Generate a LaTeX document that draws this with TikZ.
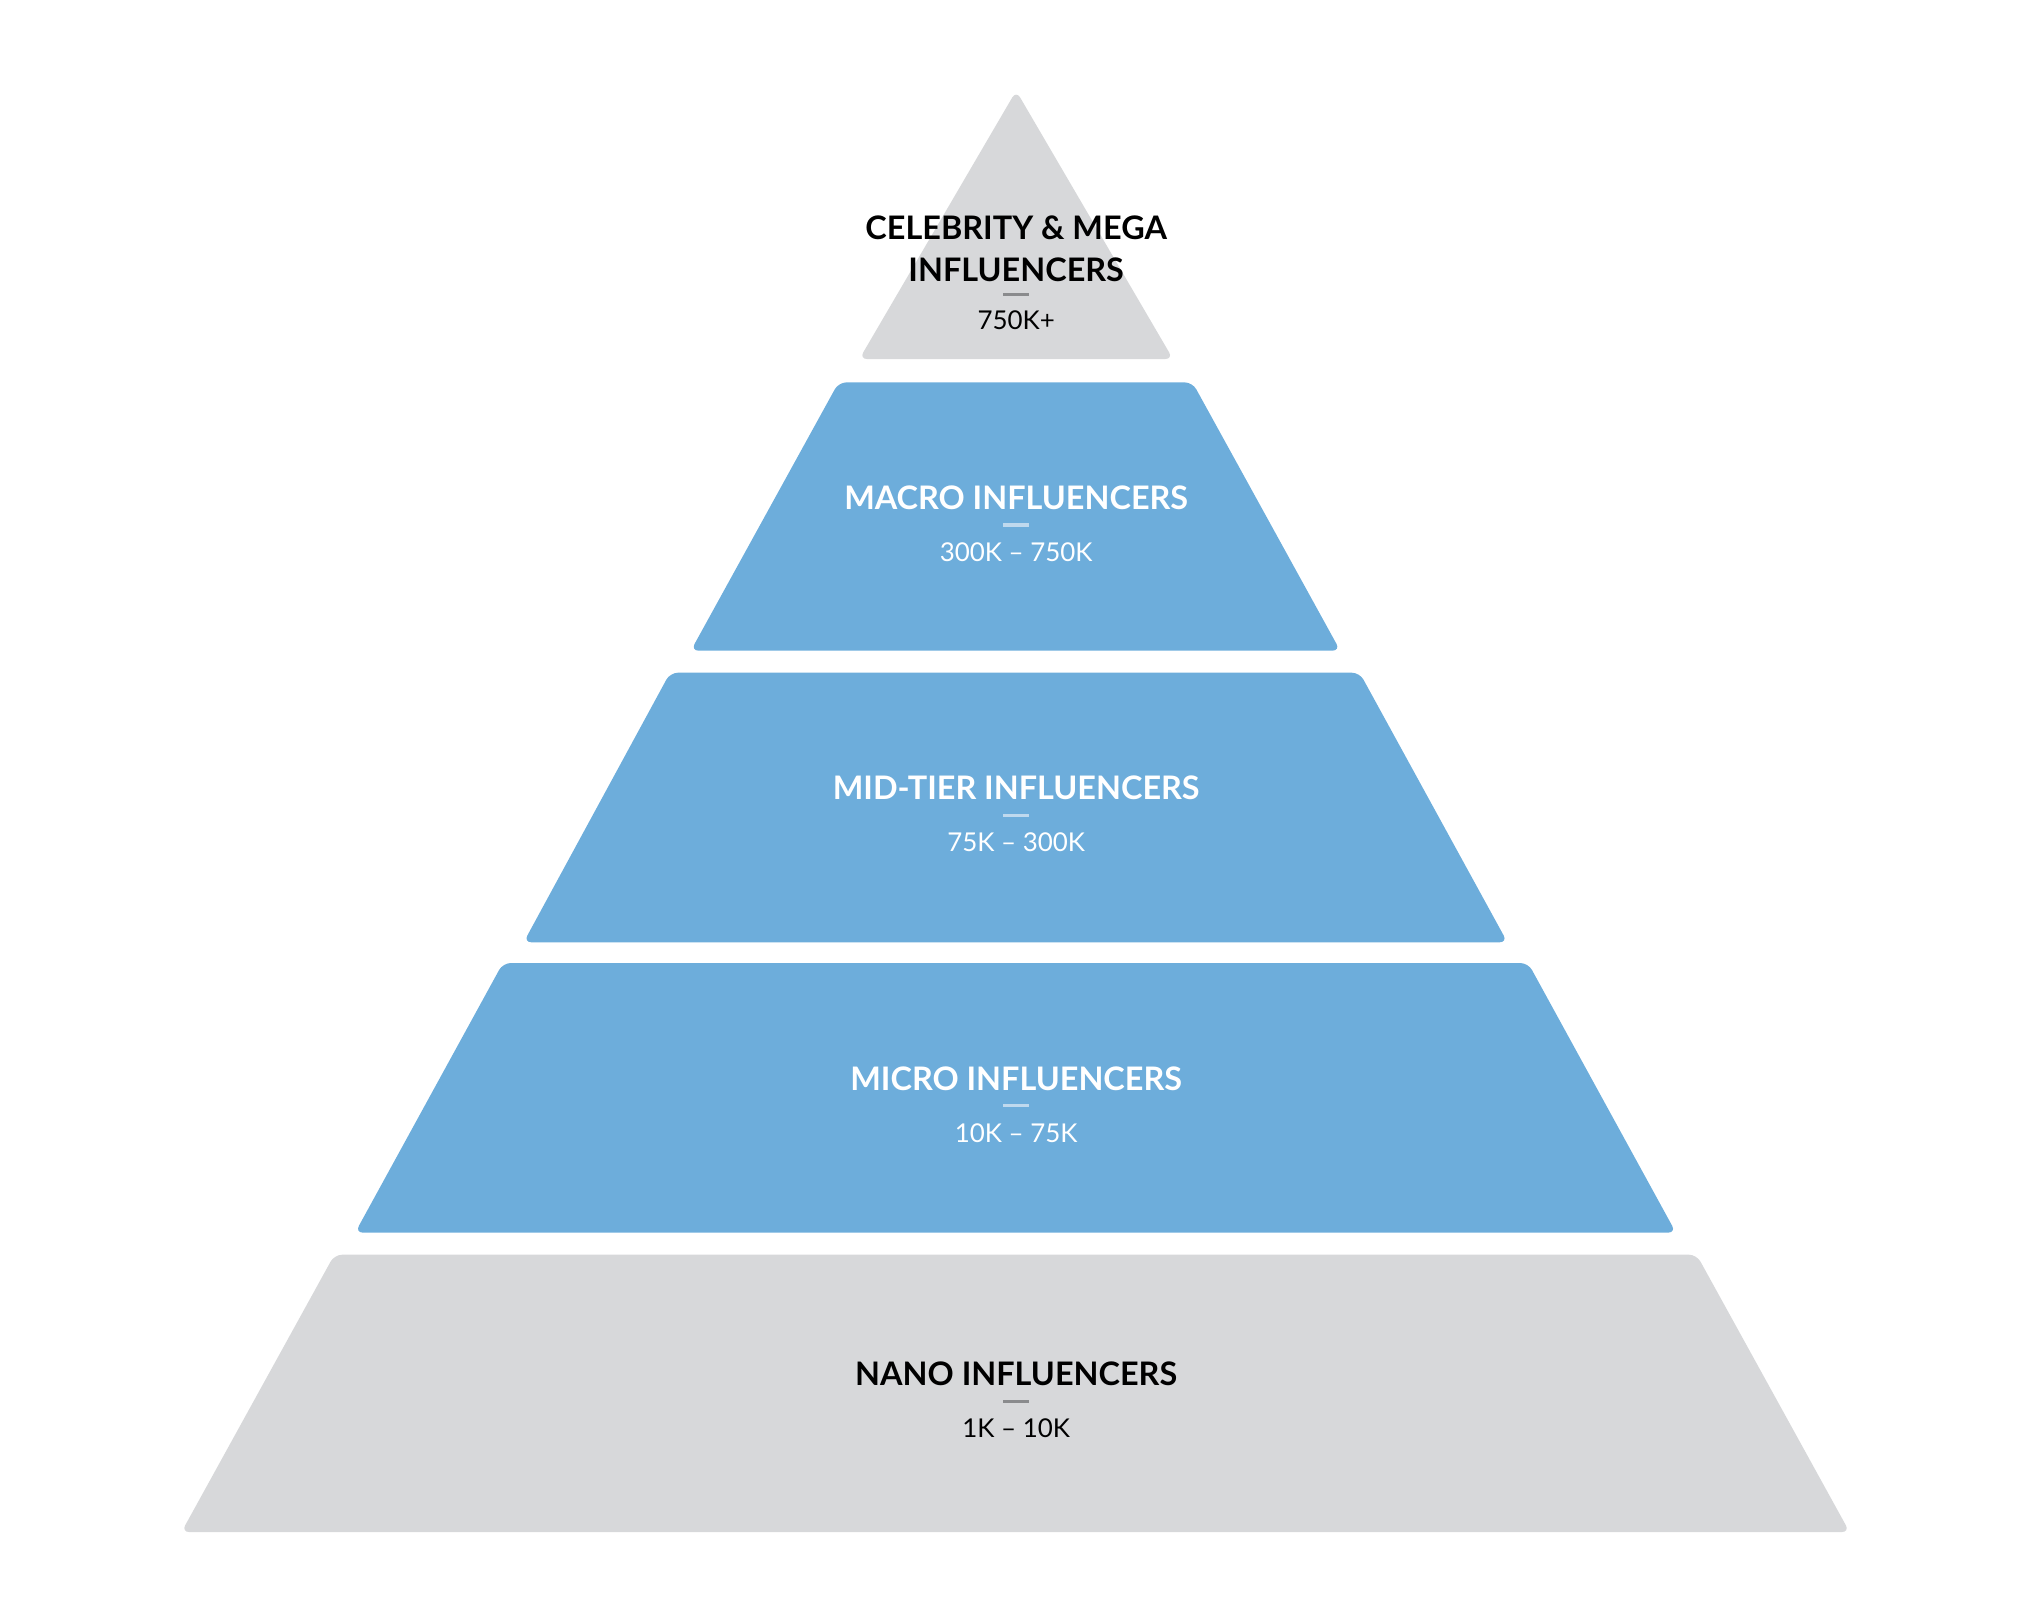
\documentclass[tikz,border=0pt]{standalone}
\usepackage{fontspec}
\setmainfont{Lato}
\definecolor{tblue}{HTML}{6DADDB}
\definecolor{tgrey}{HTML}{D7D8DA}
\definecolor{dgrey}{HTML}{8A8B8D}
\definecolor{lblue}{HTML}{BFD9EE}
\begin{document}
\begin{tikzpicture}[x=0.5pt,y=-0.5pt,
  tier/.style={rounded corners=3pt},
  ttl/.style={font=\bfseries\fontsize{12.5}{14}\selectfont, align=center, inner sep=0pt},
  rng/.style={font=\fontsize{10}{12}\selectfont, inner sep=0pt}]
\useasboundingbox (0,0) rectangle (1560,1248);
\fill[tier,tgrey] (784,70) -- (905,277) -- (663,277) -- cycle;
\fill[tier,tblue] (647,295) -- (920,295) -- (1034,502) -- (533,502) -- cycle;
\fill[tier,tblue] (517,519) -- (1049,519) -- (1163,727) -- (404,727) -- cycle;
\fill[tier,tblue] (388,743) -- (1179,743) -- (1293,951) -- (274,951) -- cycle;
\fill[tier,tgrey] (258,968) -- (1309,968) -- (1427,1182) -- (140,1182) -- cycle;
\node[ttl] (t1) at (784,192) {CELEBRITY \& MEGA\\[2pt]INFLUENCERS};
\draw[dgrey,line width=1.2pt] (774,227) -- (794,227);
\node[rng] (r1) at (784,247) {750K+};
\node[ttl,white] (t2) at (784,384) {MACRO INFLUENCERS};
\draw[lblue,line width=1.2pt] (774,405) -- (794,405);
\node[rng,white] (r2) at (784,426) {300K – 750K};
\node[ttl,white] (t3) at (784,608) {MID-TIER INFLUENCERS};
\draw[lblue,line width=1.2pt] (774,629) -- (794,629);
\node[rng,white] (r3) at (784,650) {75K – 300K};
\node[ttl,white] (t4) at (784,832) {MICRO INFLUENCERS};
\draw[lblue,line width=1.2pt] (774,853) -- (794,853);
\node[rng,white] (r4) at (784,874) {10K – 75K};
\node[ttl] (t5) at (784,1060) {NANO INFLUENCERS};
\draw[dgrey,line width=1.2pt] (774,1081) -- (794,1081);
\node[rng] (r5) at (784,1102) {1K – 10K};
\end{tikzpicture}
\end{document}
